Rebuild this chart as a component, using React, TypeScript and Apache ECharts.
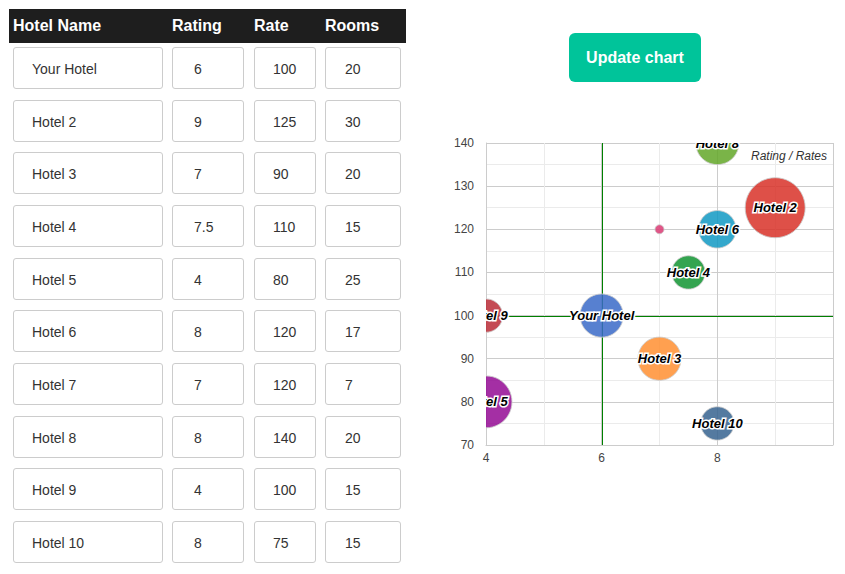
import React, { useEffect, useRef } from 'react';
import * as echarts from 'echarts';

// hotel data, as shown in the table and the bubble chart
const hotelNames = ['Your Hotel', 'Hotel 2', 'Hotel 3', 'Hotel 4', 'Hotel 5', 'Hotel 6', 'Hotel 7', 'Hotel 8', 'Hotel 9', 'Hotel 10'];
const ratings = [6, 9, 7, 7.5, 4, 8, 7, 8, 4, 8];
const rates = [100, 125, 90, 110, 80, 120, 120, 140, 100, 75];
const rooms = [20, 30, 20, 15, 25, 17, 7, 20, 15, 15];

const bubbleColors = ['#3a6ac8', '#d83128', '#ff8f31', '#109431', '#940b94', '#1099c3', '#da3a73', '#63a728', '#ba2c36', '#36638f'];

const columns = ['Hotel Name', 'Rating', 'Rate', 'Rooms'];
const xRange = [4, 10];
const yRange = [70, 140];

const FONT = '"Liberation Sans", Arial, Helvetica, sans-serif';

const minRooms = Math.min(...rooms);
const maxRooms = Math.max(...rooms);
const bubbleDiameter = (s: number) => 9 + 51 * Math.pow((s - minRooms) / (maxRooms - minRooms), 0.7);

const colLeft = [13, 172, 254, 325];
const colWidth = [150, 72, 62, 76];
const colPad = [19, 22, 19, 20];

const BubbleChart: React.FC = () => {
  const chartRef = useRef<HTMLDivElement>(null);

  useEffect(() => {
    if (!chartRef.current) return;
    const chart = echarts.init(chartRef.current, undefined, { renderer: 'svg' });

    const data = hotelNames.map((n, i) => [ratings[i], rates[i], rooms[i]]);

    const option: any = {
      animation: false,
      title: {
        text: 'Rating / Rates',
        right: 13,
        top: 25,
        textStyle: { fontFamily: FONT, fontSize: 12, fontStyle: 'italic', fontWeight: 'normal', color: '#333' }
      },
      grid: { left: 56, top: 23, width: 347, height: 302, containLabel: false },
      xAxis: {
        type: 'value',
        min: xRange[0],
        max: xRange[1],
        interval: 2,
        axisLine: { show: true, onZero: false, lineStyle: { color: '#ccc' } },
        axisTick: { show: false },
        minorTick: { show: false, splitNumber: 2 },
        axisLabel: {
          margin: 7,
          fontFamily: FONT,
          fontSize: 12,
          color: '#444',
          formatter: (v: number) => (v === xRange[1] ? '' : String(v))
        },
        splitLine: { show: true, lineStyle: { color: '#ccc' } },
        minorSplitLine: { show: true, lineStyle: { color: '#ebebeb' } }
      },
      yAxis: {
        type: 'value',
        min: yRange[0],
        max: yRange[1],
        interval: 10,
        axisLine: { show: true, onZero: false, lineStyle: { color: '#ccc' } },
        axisTick: { show: false },
        minorTick: { show: false, splitNumber: 2 },
        axisLabel: { margin: 12, fontFamily: FONT, fontSize: 12, color: '#444' },
        splitLine: { show: true, lineStyle: { color: '#ccc' } },
        minorSplitLine: { show: true, lineStyle: { color: '#ebebeb' } }
      },
      series: [
        {
          type: 'custom',
          clip: true,
          silent: true,
          data,
          renderItem: (params: any, api: any) => {
            const i = params.dataIndex;
            const pt = api.coord([api.value(0), api.value(1)]);
            const d = bubbleDiameter(api.value(2));
            const children: any[] = [];
            if (i === 0) {
              // green crosshair through "Your Hotel"
              const lo = api.coord([xRange[0], yRange[0]]);
              const hi = api.coord([xRange[1], yRange[1]]);
              const cx = Math.round(pt[0]) + 0.5;
              const cy = Math.round(pt[1]) + 0.5;
              const lineStyle = { stroke: '#008000', lineWidth: 1 };
              children.push(
                { type: 'line', shape: { x1: cx, y1: lo[1], x2: cx, y2: hi[1] }, style: lineStyle },
                { type: 'line', shape: { x1: lo[0], y1: cy, x2: hi[0], y2: cy }, style: lineStyle }
              );
            }
            children.push({
              type: 'circle',
              shape: { cx: pt[0], cy: pt[1], r: d / 2 },
              style: { fill: bubbleColors[i], opacity: 0.85, stroke: '#ccc', lineWidth: 1 }
            });
            // tiny bubbles get no label
            if (d >= 15) {
              children.push({
                type: 'text',
                x: pt[0],
                y: pt[1],
                style: {
                  text: hotelNames[i],
                  align: 'center',
                  verticalAlign: 'middle',
                  font: `italic bold 13px ${FONT}`,
                  fill: '#000',
                  stroke: '#fff',
                  lineWidth: 3,
                  strokeFirst: true
                }
              });
            }
            return { type: 'group', children };
          }
        }
      ]
    };

    chart.setOption(option);
    return () => chart.dispose();
  }, []);

  return (
    <div
      ref={chartRef}
      style={{ position: 'absolute', left: 430, top: 120, width: 415, height: 360 }}
    />
  );
};

const App: React.FC = () => {
  const rows = hotelNames.map((n, i) => [n, String(ratings[i]), String(rates[i]), String(rooms[i])]);
  return (
    <div style={{ position: 'absolute', left: 0, top: 0, width: 845, height: 574, fontFamily: FONT, background: '#fff' }}>
      {/* table header */}
      <div style={{ position: 'absolute', left: 9, top: 9, width: 397, height: 34, background: '#1e1e1e' }} />
      {columns.map((c, j) => (
        <div
          key={c}
          style={{
            position: 'absolute',
            left: colLeft[j],
            top: 9,
            height: 34,
            lineHeight: '34px',
            color: '#fff',
            fontWeight: 'bold',
            fontSize: 16
          }}
        >
          {c}
        </div>
      ))}
      {/* input rows */}
      {rows.map((r, i) =>
        r.map((v, j) => (
          <div
            key={`${i}-${j}`}
            style={{
              position: 'absolute',
              left: colLeft[j],
              top: Math.round(47 + i * 52.67),
              width: colWidth[j],
              height: 42,
              boxSizing: 'border-box',
              border: '1px solid #ccc',
              borderRadius: 3,
              paddingLeft: colPad[j] - 1,
              lineHeight: '42px',
              fontSize: 14,
              color: '#333'
            }}
          >
            {v}
          </div>
        ))
      )}
      {/* button */}
      <div
        style={{
          position: 'absolute',
          left: 569,
          top: 33,
          width: 132,
          height: 49,
          lineHeight: '49px',
          background: '#00c49a',
          borderRadius: 6,
          color: '#fff',
          fontWeight: 'bold',
          fontSize: 16,
          textAlign: 'center'
        }}
      >
        Update chart
      </div>
      <BubbleChart />
    </div>
  );
};

export default App;
